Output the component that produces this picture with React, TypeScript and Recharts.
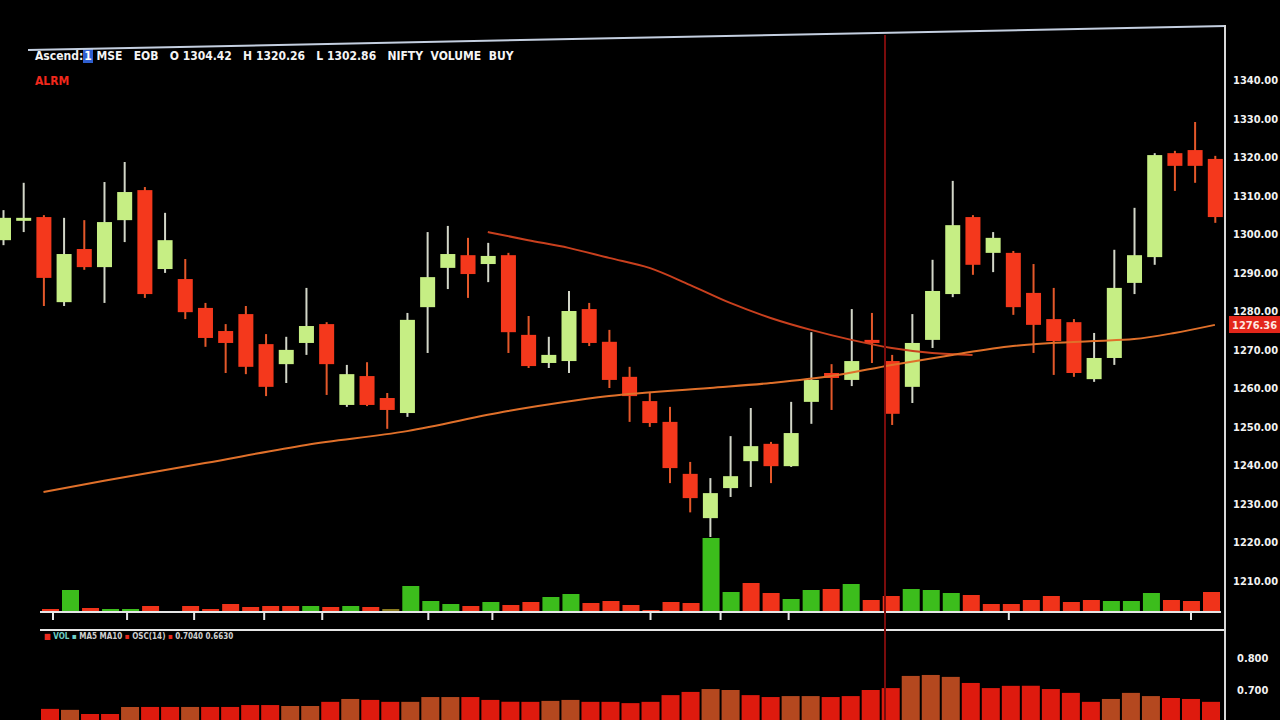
import { ComposedChart, Bar, Line, XAxis, YAxis, Cell } from 'recharts';

// price candles (index = bar position)
const candleOpen = [1298.4, 1303.6, 1304.4, 1282.3, 1296.1, 1291.4, 1303.6, 1311.4, 1290.9, 1288.3, 1280.8, 1274.8, 1279.2, 1271.4, 1266.2, 1271.7, 1276.6, 1255.6, 1263.1, 1257.4, 1253.5, 1281.0, 1291.2, 1294.5, 1292.2, 1294.5, 1273.8, 1266.5, 1267.0, 1280.5, 1272.0, 1262.9, 1256.6, 1251.2, 1237.7, 1226.2, 1234.0, 1241.0, 1245.5, 1239.7, 1256.4, 1263.9, 1262.1, 1272.5, 1267.0, 1260.3, 1272.5, 1284.4, 1304.4, 1295.1, 1295.1, 1284.7, 1277.9, 1277.1, 1262.3, 1267.8, 1287.3, 1294.0, 1321.0, 1321.8, 1319.5];
const candleHigh = [1306.2, 1313.3, 1304.9, 1304.2, 1303.6, 1313.5, 1318.7, 1312.2, 1305.5, 1293.5, 1282.1, 1276.6, 1281.3, 1274.0, 1273.3, 1286.0, 1277.1, 1266.0, 1266.7, 1258.7, 1279.5, 1300.5, 1302.1, 1299.0, 1297.7, 1295.1, 1278.7, 1273.3, 1285.2, 1282.1, 1275.1, 1265.5, 1259.0, 1255.1, 1240.8, 1236.6, 1247.5, 1254.8, 1246.0, 1256.4, 1274.5, 1266.2, 1280.5, 1279.5, 1268.6, 1279.2, 1293.3, 1313.8, 1304.9, 1300.5, 1295.6, 1292.2, 1286.0, 1277.9, 1274.3, 1295.9, 1306.8, 1321.0, 1321.6, 1329.1, 1320.3];
const candleLow = [1297.1, 1300.5, 1281.3, 1281.3, 1290.7, 1282.1, 1297.9, 1283.4, 1289.9, 1277.9, 1270.7, 1263.9, 1263.6, 1257.9, 1261.3, 1268.6, 1258.2, 1255.1, 1255.3, 1249.4, 1252.5, 1269.1, 1285.7, 1283.4, 1287.5, 1269.1, 1265.2, 1265.2, 1263.9, 1270.9, 1260.0, 1251.2, 1249.9, 1235.3, 1227.7, 1221.3, 1231.7, 1234.3, 1235.3, 1239.5, 1250.7, 1254.3, 1260.5, 1266.5, 1250.4, 1256.1, 1270.4, 1283.6, 1289.4, 1290.1, 1279.0, 1269.1, 1263.4, 1262.9, 1261.6, 1266.0, 1284.4, 1292.0, 1311.2, 1313.3, 1302.9];
const candleClose = [1304.2, 1304.2, 1288.6, 1294.8, 1291.4, 1303.1, 1310.9, 1284.4, 1298.4, 1279.7, 1273.0, 1271.7, 1265.5, 1260.3, 1269.9, 1276.1, 1266.2, 1263.6, 1255.6, 1254.3, 1277.7, 1288.8, 1294.8, 1289.6, 1294.3, 1274.5, 1265.7, 1268.6, 1280.0, 1271.7, 1262.1, 1257.9, 1250.9, 1239.2, 1231.4, 1232.7, 1237.1, 1244.9, 1239.7, 1248.3, 1262.1, 1262.6, 1267.0, 1271.7, 1253.3, 1271.7, 1285.2, 1302.3, 1292.0, 1299.0, 1281.0, 1276.4, 1272.2, 1263.9, 1267.8, 1286.0, 1294.5, 1320.5, 1317.7, 1317.7, 1304.4];

// moving averages, readings at the bars where the line was measured
const maSlowAt = [2, 5, 10, 15, 20, 25, 30, 35, 38, 41, 44, 47, 50, 54, 56, 58, 60];
const maSlowVal = [1233.0, 1235.9, 1240.5, 1245.2, 1248.8, 1254.0, 1257.9, 1260.0, 1261.3, 1263.1, 1266.0, 1268.6, 1270.9, 1272.2, 1272.7, 1274.3, 1276.4];
const maFastAt = [24, 26, 28, 30, 32, 34, 36, 38, 40, 42, 44, 46, 48];
const maFastVal = [1300.5, 1298.4, 1296.4, 1293.8, 1291.2, 1286.8, 1282.1, 1278.2, 1275.1, 1272.5, 1270.4, 1269.1, 1268.6];

const priceTicks = [1340, 1330, 1320, 1310, 1300, 1290, 1280, 1270, 1260, 1250, 1240, 1230, 1220, 1210];
const lastPrice = 1276.36;

// volume (K) and its bar direction
const volume = [30, 220, 40, 30, 30, 60, 10, 60, 30, 80, 50, 60, 60, 60, 50, 60, 50, 30, 260, 110, 80, 60, 100, 70, 100, 150, 180, 90, 110, 70, 20, 100, 90, 740, 200, 290, 190, 130, 220, 230, 280, 120, 160, 230, 220, 190, 170, 80, 80, 120, 160, 100, 120, 110, 110, 190, 120, 110, 200];
const volumeSide = ['d', 'u', 'd', 'u', 'u', 'd', 'f', 'd', 'd', 'd', 'd', 'd', 'd', 'u', 'd', 'u', 'd', 'f', 'u', 'u', 'u', 'd', 'u', 'd', 'd', 'u', 'u', 'd', 'd', 'd', 'd', 'd', 'd', 'u', 'u', 'd', 'd', 'u', 'u', 'd', 'u', 'd', 'd', 'u', 'u', 'u', 'd', 'd', 'd', 'd', 'd', 'd', 'd', 'u', 'u', 'u', 'd', 'd', 'd'];
const axisMarks = [0.15, 3.85, 7.2, 10.7, 13.6, 18.9, 22.1, 30, 33.5, 36.9, 47.9, 57];

// lower oscillator
const oscValue = [0.641, 0.638, 0.625, 0.625, 0.647, 0.647, 0.647, 0.647, 0.647, 0.647, 0.653, 0.653, 0.65, 0.65, 0.663, 0.672, 0.669, 0.663, 0.663, 0.678, 0.678, 0.678, 0.669, 0.663, 0.663, 0.666, 0.669, 0.663, 0.663, 0.659, 0.663, 0.684, 0.694, 0.703, 0.7, 0.684, 0.678, 0.681, 0.681, 0.678, 0.681, 0.7, 0.706, 0.744, 0.747, 0.741, 0.722, 0.706, 0.713, 0.713, 0.703, 0.691, 0.663, 0.672, 0.691, 0.681, 0.675, 0.672, 0.663];
const oscTone = ['h', 'w', 'h', 'h', 'w', 'h', 'h', 'w', 'h', 'h', 'h', 'h', 'w', 'w', 'h', 'w', 'h', 'h', 'w', 'w', 'w', 'h', 'h', 'h', 'h', 'w', 'w', 'h', 'h', 'h', 'h', 'h', 'h', 'w', 'w', 'h', 'h', 'w', 'w', 'h', 'h', 'h', 'h', 'w', 'w', 'w', 'h', 'h', 'h', 'h', 'h', 'h', 'h', 'w', 'w', 'w', 'h', 'h', 'h'];
const oscTicks = [0.8, 0.7];

const FONT = "'DejaVu Sans Condensed', 'DejaVu Sans', sans-serif";

const priceRows = candleOpen.map((open, i) => ({
  i,
  open,
  high: candleHigh[i],
  low: candleLow[i],
  close: candleClose[i],
  maSlow: maSlowAt.includes(i) ? maSlowVal[maSlowAt.indexOf(i)] : null,
  maFast: maFastAt.includes(i) ? maFastVal[maFastAt.indexOf(i)] : null,
}));
const volumeRows = volume.map((v, i) => ({ i, v }));
const oscRows = oscValue.map((v, i) => ({ i, v }));

const Candle = (props: any) => {
  const { x, y, width, height, payload } = props;
  if (x == null || y == null) return null;
  const top = Math.min(y, y + height);
  const h = Math.abs(height);
  const range = payload.high - payload.low || 1;
  const toY = (v: number) => top + ((payload.high - v) / range) * h;
  const up = payload.close >= payload.open;
  const bodyTop = toY(Math.max(payload.open, payload.close));
  const bodyBot = toY(Math.min(payload.open, payload.close));
  const cx = x + width / 2;
  return (
    <g>
      <line x1={cx} x2={cx} y1={top} y2={top + h} stroke={up ? '#d2d6c8' : '#e4582a'} strokeWidth={2} />
      <rect x={x} y={bodyTop} width={width} height={Math.max(bodyBot - bodyTop, 3)} fill={up ? '#c6ee84' : '#f4381c'} />
    </g>
  );
};

const PriceTick = ({ x, y, payload }: any) => {
  if (payload.value === lastPrice) {
    return (
      <g>
        <rect x={x - 4} y={y - 9} width={60} height={17} fill="#e3261a" />
        <text x={x - 1} y={y + 4} fill="#ffe8e0" fontSize={11} fontWeight="bold" fontFamily={FONT}>
          {payload.value.toFixed(2)}
        </text>
      </g>
    );
  }
  return (
    <text x={x} y={y + 4} fill="#f2f2f2" fontSize={11} fontWeight="bold" fontFamily={FONT}>
      {payload.value.toFixed(2)}
    </text>
  );
};

const volumeColor = (s: string) => (s === 'u' ? '#3cbd1c' : s === 'f' ? '#8a7a1e' : '#f0331a');
const oscColor = (t: string) => (t === 'w' ? '#b4481f' : '#de1a0e');

export default function App() {
  return (
    <div
      style={{
        position: 'absolute',
        left: 0,
        top: 0,
        width: 1280,
        height: 720,
        background: '#000',
        overflow: 'hidden',
        fontFamily: FONT,
      }}
    >
      {/* header */}
      <div style={{ position: 'absolute', left: 35, top: 49, color: '#f4f4f4', fontSize: 12, fontWeight: 'bold', whiteSpace: 'pre' }}>
        Ascend:<span style={{ background: '#2f5fd0', color: '#fff', padding: '0 1px' }}>1</span>
        {' MSE   EOB   O 1304.42   H 1320.26   L 1302.86   NIFTY  VOLUME  BUY'}
      </div>
      <div style={{ position: 'absolute', left: 35, top: 74, color: '#f0281c', fontSize: 12, fontWeight: 'bold' }}>ALRM</div>

      {/* slanted frame line at the top */}
      <div
        style={{
          position: 'absolute',
          left: 28,
          top: 49,
          width: 1198,
          height: 2,
          background: '#c4cfe0',
          transform: 'rotate(-1.15deg)',
          transformOrigin: '0 0',
        }}
      />

      {/* price panel */}
      <div style={{ position: 'absolute', left: -7, top: 0 }}>
        <ComposedChart width={1287} height={720} data={priceRows} margin={{ top: 36, right: 0, bottom: 108, left: 0 }}>
          <XAxis dataKey="i" type="number" domain={[-0.5, 60.5]} hide />
          <YAxis
            orientation="right"
            width={55}
            domain={[1201.82, 1351.43]}
            ticks={[...priceTicks, lastPrice]}
            interval={0}
            axisLine={false}
            tickLine={false}
            tick={<PriceTick />}
            allowDataOverflow
          />
          <Bar dataKey={(d: any) => [d.low, d.high]} barSize={15} shape={<Candle />} isAnimationActive={false} />
          <Line type="monotone" dataKey="maFast" stroke="#c9401e" strokeWidth={2} dot={false} connectNulls isAnimationActive={false} />
          <Line type="monotone" dataKey="maSlow" stroke="#e0702a" strokeWidth={2} dot={false} connectNulls isAnimationActive={false} />
        </ComposedChart>
      </div>

      {/* volume */}
      <div style={{ position: 'absolute', left: 0, top: 500 }}>
        <ComposedChart width={1225} height={130} data={volumeRows} margin={{ top: 12, right: 4, bottom: 0, left: 40 }}>
          <XAxis
            dataKey="i"
            type="number"
            domain={[-0.5, 58.5]}
            ticks={axisMarks}
            interval={0}
            height={18}
            tickSize={8}
            tickFormatter={() => ''}
            axisLine={{ stroke: '#e6e6e6', strokeWidth: 2 }}
            tickLine={{ stroke: '#e6e6e6', strokeWidth: 2 }}
          />
          <YAxis hide domain={[0, 1000]} />
          <Bar dataKey="v" barSize={17} isAnimationActive={false}>
            {volumeRows.map((r) => (
              <Cell key={r.i} fill={volumeColor(volumeSide[r.i])} />
            ))}
          </Bar>
        </ComposedChart>
      </div>

      {/* separator + caption */}
      <div style={{ position: 'absolute', left: 40, top: 629, width: 1186, height: 2, background: '#e6e6e6' }} />
      <div style={{ position: 'absolute', left: 44, top: 632, fontSize: 8, fontWeight: 'bold', whiteSpace: 'pre', color: '#cfcfcf' }}>
        <span style={{ color: '#e8281c' }}>■</span>
        <span style={{ color: '#6fd0c8' }}> VOL ▪ </span>
        MA5 MA10 <span style={{ color: '#e8281c' }}>▪</span> OSC(14) <span style={{ color: '#e8281c' }}>▪</span> 0.7040 0.6630
      </div>

      {/* oscillator */}
      <div style={{ position: 'absolute', left: 0, top: 630 }}>
        <ComposedChart width={1280} height={90} data={oscRows} margin={{ top: 10, right: 0, bottom: 0, left: 40 }}>
          <XAxis dataKey="i" type="number" domain={[-0.5, 58.5]} hide />
          <YAxis
            orientation="right"
            width={59}
            domain={[0.60625, 0.85625]}
            ticks={oscTicks}
            interval={0}
            axisLine={false}
            tickLine={false}
            tickMargin={10}
            tickFormatter={(v: number) => v.toFixed(3)}
            tick={{ fill: '#f2f2f2', fontSize: 11, fontWeight: 'bold', fontFamily: FONT, textAnchor: 'start' }}
            allowDataOverflow
          />
          <Bar dataKey="v" barSize={18} isAnimationActive={false}>
            {oscRows.map((r) => (
              <Cell key={r.i} fill={oscColor(oscTone[r.i])} />
            ))}
          </Bar>
        </ComposedChart>
      </div>

      {/* right axis border and crosshair */}
      <div style={{ position: 'absolute', left: 1224, top: 25, width: 2, height: 695, background: '#d8d8d8' }} />
      <div style={{ position: 'absolute', left: 884, top: 35, width: 2, height: 685, background: '#7a0c0c' }} />
    </div>
  );
}
